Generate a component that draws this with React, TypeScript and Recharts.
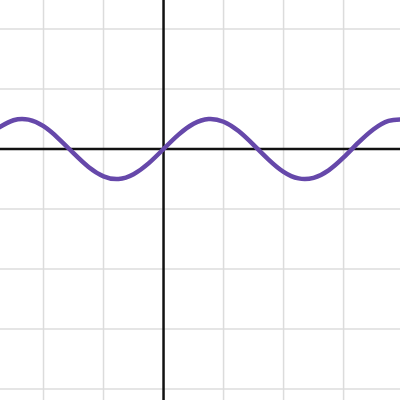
import React from 'react';
import { LineChart, Line, XAxis, YAxis, ReferenceLine } from 'recharts';

const xValues = [
  -5.5, -5.0, -4.5, -4.0, -3.5, -3.0, -2.5, -2.0, -1.5, -1.0, -0.5, 0,
  0.5, 1.0, 1.5, 2.0, 2.5, 3.0, 3.5, 4.0, 4.5, 5.0, 5.5, 6.0, 6.5, 7.0, 7.5, 8.0,
];
const yValues = [
  0.71, 0.96, 0.98, 0.76, 0.35, -0.14, -0.6, -0.91, -1.0, -0.84, -0.48, 0,
  0.48, 0.84, 1.0, 0.91, 0.6, 0.14, -0.35, -0.76, -0.98, -0.96, -0.71, -0.28, 0.22, 0.66, 0.94, 0.99,
];

// grid lines (every 2 units) and visible window
const gridX = [-4, -2, 2, 4, 6];
const gridY = [4, 2, -2, -4, -6, -8];
const xDomain = [-5.45, 7.88];
const yDomain = [-8.37, 4.97];

const data = xValues.map((x, i) => ({ x, y: yValues[i] }));

export default function App() {
  return (
    <div style={{ position: 'fixed', left: 0, top: 0, width: 400, height: 400, background: '#fff' }}>
      <LineChart width={400} height={400} data={data} margin={{ top: 0, right: 0, bottom: 0, left: 0 }}>
        <XAxis type="number" dataKey="x" domain={xDomain} allowDataOverflow hide />
        <YAxis type="number" domain={yDomain} allowDataOverflow hide />
        {gridX.map((v) => (
          <ReferenceLine key={`gx${v}`} x={v} stroke="#dcdcdc" strokeWidth={1.5} />
        ))}
        {gridY.map((v) => (
          <ReferenceLine key={`gy${v}`} y={v} stroke="#dcdcdc" strokeWidth={1.5} />
        ))}
        <ReferenceLine x={0} stroke="#111" strokeWidth={2.5} />
        <ReferenceLine y={0} stroke="#111" strokeWidth={2.5} />
        <Line
          type="natural"
          dataKey="y"
          stroke="#6648aa"
          strokeWidth={4.5}
          dot={false}
          isAnimationActive={false}
        />
      </LineChart>
    </div>
  );
}
